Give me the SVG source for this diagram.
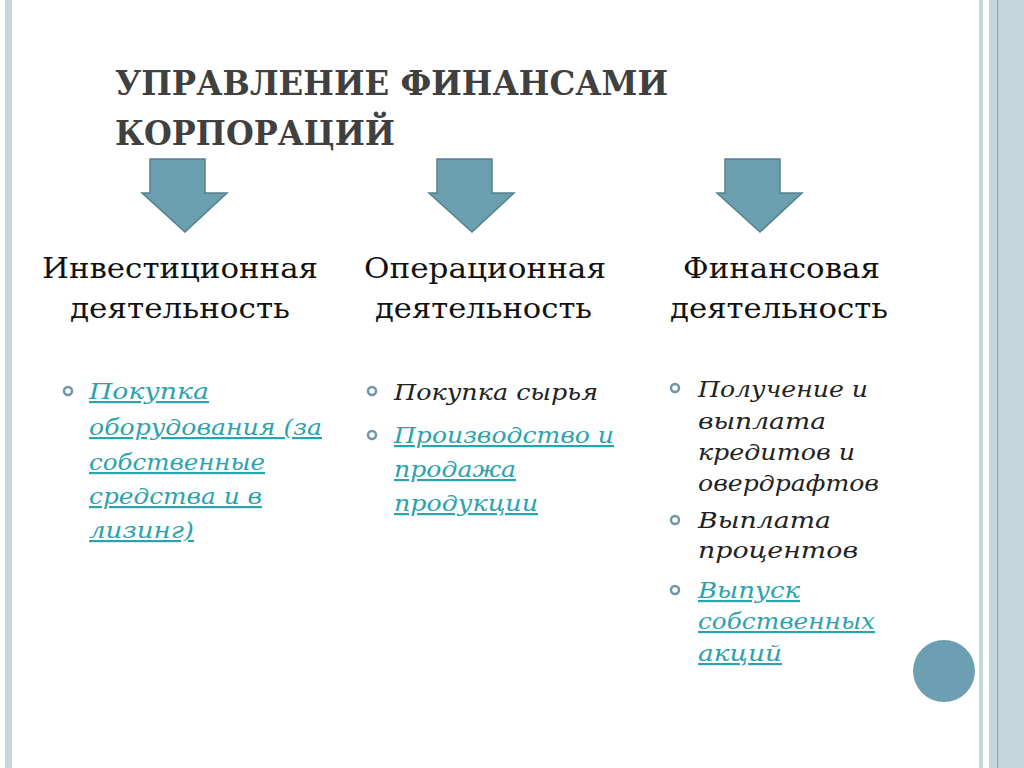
<svg xmlns="http://www.w3.org/2000/svg" width="1024" height="768" viewBox="0 0 1024 768">
<style>
text{font-family:"DejaVu Serif","Liberation Serif",serif}
.t{fill:#404040;font-weight:bold;font-size:34px}
.h{fill:#111;font-size:27px}
.b{fill:#222;font-size:22px;font-style:italic}
.l{fill:#2ba3ad;text-decoration:underline}
.c{fill:#6a9fb0;stroke:#55808f;stroke-width:1.5}
.r{fill:none;stroke:#6f96a6;stroke-width:2.5}
</style>
<rect width="1024" height="768" fill="#fff"/>
<rect x="5" y="0" width="7" height="768" fill="#c5d6dc"/>
<rect x="979" y="0" width="4" height="768" fill="#c5d6dc"/>
<rect x="989" y="0" width="35" height="768" fill="#c5d6dc"/>
<rect x="997" y="0" width="1.2" height="768" fill="#8fa9b2"/>
<circle cx="944" cy="671" r="31" fill="#6c9fb1"/>
<g id="title">
<text class="t" x="115" y="95" textLength="553" lengthAdjust="spacingAndGlyphs">УПРАВЛЕНИЕ ФИНАНСАМИ</text>
<text class="t" x="115" y="145" textLength="280" lengthAdjust="spacingAndGlyphs">КОРПОРАЦИЙ</text>
</g>
<g id="arrows">
<path class="c" d="M150,159H205V193H227L185,232L142,193H150Z"/>
<path class="c" d="M437,159H492V193H514L472,232L429,193H437Z"/>
<path class="c" d="M725,159H780V193H802L760,232L717,193H725Z"/>
</g>
<g id="col1">
<text class="h" x="42" y="278" textLength="276" lengthAdjust="spacingAndGlyphs">Инвестиционная</text>
<text class="h" x="70" y="318" textLength="220" lengthAdjust="spacingAndGlyphs">деятельность</text>
<circle class="r" cx="68" cy="391" r="4"/>
<text class="b l" x="89" y="399" textLength="120" lengthAdjust="spacingAndGlyphs">Покупка</text>
<text class="b l" x="89" y="435" textLength="233" lengthAdjust="spacingAndGlyphs">оборудования (за</text>
<text class="b l" x="89" y="470" textLength="176" lengthAdjust="spacingAndGlyphs">собственные</text>
<text class="b l" x="89" y="504" textLength="173" lengthAdjust="spacingAndGlyphs">средства и в</text>
<text class="b l" x="89" y="538" textLength="105" lengthAdjust="spacingAndGlyphs">лизинг)</text>
</g>
<g id="col2">
<text class="h" x="364" y="278" textLength="242" lengthAdjust="spacingAndGlyphs">Операционная</text>
<text class="h" x="375" y="318" textLength="217" lengthAdjust="spacingAndGlyphs">деятельность</text>
<circle class="r" cx="372" cy="391" r="4"/>
<text class="b" x="394" y="400" textLength="204" lengthAdjust="spacingAndGlyphs">Покупка сырья</text>
<circle class="r" cx="372" cy="435" r="4"/>
<text class="b l" x="394" y="443" textLength="220" lengthAdjust="spacingAndGlyphs">Производство и</text>
<text class="b l" x="394" y="477" textLength="122" lengthAdjust="spacingAndGlyphs">продажа</text>
<text class="b l" x="394" y="511" textLength="144" lengthAdjust="spacingAndGlyphs">продукции</text>
</g>
<g id="col3">
<text class="h" x="683" y="278" textLength="197" lengthAdjust="spacingAndGlyphs">Финансовая</text>
<text class="h" x="670" y="318" textLength="218" lengthAdjust="spacingAndGlyphs">деятельность</text>
<circle class="r" cx="675" cy="388" r="4"/>
<text class="b" x="698" y="397" textLength="170" lengthAdjust="spacingAndGlyphs">Получение и</text>
<text class="b" x="698" y="429" textLength="128" lengthAdjust="spacingAndGlyphs">выплата</text>
<text class="b" x="698" y="460" textLength="157" lengthAdjust="spacingAndGlyphs">кредитов и</text>
<text class="b" x="698" y="491" textLength="181" lengthAdjust="spacingAndGlyphs">овердрафтов</text>
<circle class="r" cx="675" cy="520" r="4"/>
<text class="b" x="698" y="528" textLength="133" lengthAdjust="spacingAndGlyphs">Выплата</text>
<text class="b" x="698" y="558" textLength="160" lengthAdjust="spacingAndGlyphs">процентов</text>
<circle class="r" cx="675" cy="590" r="4"/>
<text class="b l" x="698" y="598" textLength="102" lengthAdjust="spacingAndGlyphs">Выпуск</text>
<text class="b l" x="698" y="629" textLength="177" lengthAdjust="spacingAndGlyphs">собственных</text>
<text class="b l" x="698" y="661" textLength="84" lengthAdjust="spacingAndGlyphs">акций</text>
</g>
</svg>
